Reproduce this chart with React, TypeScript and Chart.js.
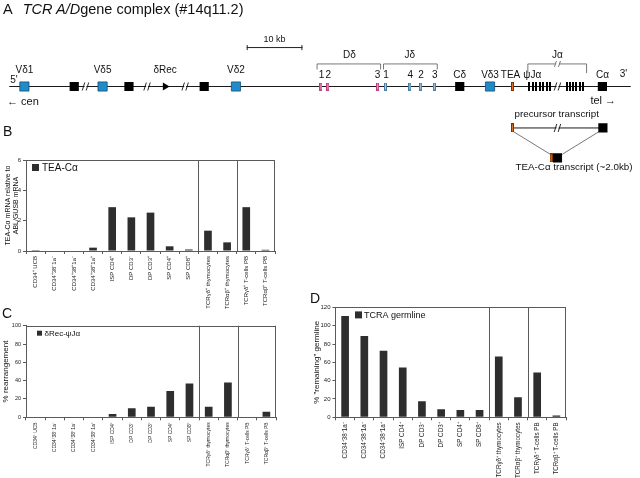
import React, { useEffect, useRef } from "react";
import { Chart, registerables } from "chart.js";
Chart.register(...registerables);

const FF = "'Liberation Sans', Arial, Helvetica, sans-serif";
const BAR_COLOR = "#2e2e2e";
const FRAME = "#5a5a5a";

// ---------- Panels B, C, D : data ----------
const cellsBC = [
  "CD34⁺ UCB", "CD34⁺38⁻1a⁻", "CD34⁺38⁺1a⁻", "CD34⁺38⁺1a⁺", "ISP CD4⁺", "DP CD3⁻", "DP CD3⁺",
  "SP CD4⁺", "SP CD8⁺", "TCRγδ⁺ thymocytes", "TCRαβ⁺ thymocytes", "TCRγδ⁺ T-cells PB", "TCRαβ⁺ T-cells PB",
];
const cellsD = [
  "CD34⁺38⁻1a⁻", "CD34⁺38⁺1a⁻", "CD34⁺38⁺1a⁺", "ISP CD4⁺", "DP CD3⁻", "DP CD3⁺",
  "SP CD4⁺", "SP CD8⁺", "TCRγδ⁺ thymocytes", "TCRαβ⁺ thymocytes", "TCRγδ⁺ T-cells PB", "TCRαβ⁺ T-cells PB",
];
const teaCalphaExpr = [0.06, 0, 0, 0.22, 2.89, 2.22, 2.53, 0.31, 0.1, 1.34, 0.57, 2.89, 0.08];
const dRecPsiJaRearr = [0, 0, 0, 0, 3.6, 9.8, 11.6, 28.7, 37, 11.5, 38, 0, 6];
const tcraGermline = [110.5, 88.7, 72.7, 54.5, 17.4, 8.7, 8, 8, 66.5, 21.8, 49, 2];
const groupStartsBC = [9, 11];
const groupStartsD = [8, 10];

// ---------- Panel A : schematic map (map units) ----------
const locusEnds = [2, 638];
const vSegPos = [17.5, 97.5, 234, 494];
const vSegNames = ["Vδ1", "Vδ5", "Vδ2", "Vδ3"];
const otherExonPos = [68.5, 124.5, 201.5];
const constPos = [463, 609];
const constNames = ["Cδ", "Cα"];
const dRecPos = [161.5];
const dDeltaPos = [321, 328, 379];
const dDeltaNames = ["1", "2", "3"];
const jDeltaPos = [387, 412, 423, 437];
const jDeltaNames = ["1", "4", "2", "3"];
const teaPos = [517];
const psiJaPos = [534.2, 537.8, 541.4, 545, 548.6, 552.2, 555.8, 572.8, 576, 579.2, 582.4, 585.6, 588.8];
const breakPos = [80, 143, 182, 563];
const precursorEnds = [517, 609.5];
const matureTea = [556.5];
const matureCa = [563];
const scaleBarKb = [245, 302];

function exonCanvas(w: number, h: number, fill: string, stroke: string) {
  const c = document.createElement("canvas");
  c.width = w;
  c.height = h;
  const x = c.getContext("2d")!;
  x.fillStyle = stroke;
  x.fillRect(0, 0, w, h);
  x.fillStyle = fill;
  x.fillRect(1, 1, Math.max(w - 2, 1), h - 2);
  return c;
}

function LocusMap() {
  const ref = useRef<HTMLCanvasElement>(null);
  useEffect(() => {
    const LOCUS_Y = 86;
    const PRE_Y = 131;
    const MAT_Y = 163.5;
    const pink = exonCanvas(3, 8, "#f4a3cc", "#b8407c");
    const ltblue = exonCanvas(3, 8, "#a9c9df", "#4a7ea0");
    const orange = exonCanvas(3, 9, "#e8721e", "#7a3300");
    const blackBar = exonCanvas(2, 9, "#000", "#000");
    const pts = (xs: number[], y: number) => xs.map((x) => ({ x, y }));

    const labelPlugin = {
      id: "labels",
      afterDatasetsDraw(chart: any) {
        const { ctx } = chart;
        const sx = chart.scales.x;
        const sy = chart.scales.y;
        const X = (v: number) => sx.getPixelForValue(v);
        const Y = (v: number) => sy.getPixelForValue(v);
        ctx.save();
        // breaks
        ctx.lineWidth = 0.9;
        const brk = (x: number, y: number) => {
          ctx.fillStyle = "#fff";
          ctx.beginPath();
          ctx.moveTo(x - 2.2, y + 4);
          ctx.lineTo(x + 0.3, y - 4);
          ctx.lineTo(x + 2.2, y - 4);
          ctx.lineTo(x - 0.3, y + 4);
          ctx.closePath();
          ctx.fill();
          ctx.strokeStyle = "#111";
          ctx.beginPath();
          ctx.moveTo(x - 3.2, y + 4);
          ctx.lineTo(x - 0.7, y - 4);
          ctx.moveTo(x + 0.7, y + 4);
          ctx.lineTo(x + 3.2, y - 4);
          ctx.stroke();
        };
        breakPos.forEach((b) => brk(X(b), Y(LOCUS_Y)));
        brk(X(563), Y(PRE_Y));

        ctx.fillStyle = "#111";
        ctx.textBaseline = "middle";
        ctx.textAlign = "center";
        ctx.font = `10px ${FF}`;
        const up = Y(68);
        const mid = Y(74);
        [0, 1, 2].forEach((i) => ctx.fillText(vSegNames[i], X(vSegPos[i]), up));
        ctx.fillText("δRec", X(dRecPos[0]), up);
        ctx.fillText(vSegNames[3], X(vSegPos[3]), mid);
        dDeltaNames.forEach((n, i) => ctx.fillText(n, X(dDeltaPos[i]) + (i < 2 ? 0.5 : 0), mid));
        jDeltaNames.forEach((n, i) => ctx.fillText(n, X(jDeltaPos[i]) + 0.5, mid));
        constNames.forEach((n, i) => ctx.fillText(n, X(constPos[i]), mid));
        ctx.fillText("TEA", X(teaPos[0]) - 2, mid);
        ctx.textAlign = "left";
        ctx.fillText("ψJα", X(psiJaPos[0]) - 6, mid);
        ctx.fillText("5'", X(locusEnds[0]) + 1, Y(79));
        ctx.fillText("3'", X(locusEnds[1]) - 11, Y(73));
        ctx.font = `11px ${FF}`;
        ctx.fillText("← cen", 7, Y(103));
        ctx.fillText("tel →", X(constPos[1]) - 12, Y(102));

        // brackets
        ctx.strokeStyle = "#555";
        ctx.lineWidth = 0.8;
        const bracket = (x1: number, x2: number, y: number, leg: number) => {
          ctx.beginPath();
          ctx.moveTo(X(x1), Y(y + leg));
          ctx.lineTo(X(x1), Y(y));
          ctx.lineTo(X(x2), Y(y));
          ctx.lineTo(X(x2), Y(y + leg));
          ctx.stroke();
        };
        bracket(dDeltaPos[0] - 4, dDeltaPos[2] + 3, 61.5, 6);
        bracket(jDeltaPos[0] - 2, jDeltaPos[3] + 3, 61.5, 6);
        bracket(psiJaPos[0] - 1.5, psiJaPos[12] + 4, 61.5, 10);
        // break marks on Ja bracket
        ctx.fillStyle = "#fff";
        ctx.fillRect(X(563) - 2, Y(61.5) - 2, 4, 4);
        ctx.beginPath();
        ctx.moveTo(X(563) - 3, Y(61.5) + 3);
        ctx.lineTo(X(563) - 1, Y(61.5) - 3);
        ctx.moveTo(X(563) + 1, Y(61.5) + 3);
        ctx.lineTo(X(563) + 3, Y(61.5) - 3);
        ctx.stroke();
        ctx.fillStyle = "#111";
        ctx.textAlign = "center";
        ctx.font = `10px ${FF}`;
        ctx.fillText("Dδ", X((dDeltaPos[0] + dDeltaPos[2]) / 2), Y(52));
        ctx.fillText("Jδ", X((jDeltaPos[0] + jDeltaPos[3]) / 2), Y(52));
        ctx.fillText("Jα", X(563), Y(52));

        // scale bar
        ctx.strokeStyle = "#222";
        ctx.lineWidth = 1;
        ctx.beginPath();
        ctx.moveTo(X(scaleBarKb[0]), Y(43.7));
        ctx.lineTo(X(scaleBarKb[1]), Y(43.7));
        ctx.moveTo(X(scaleBarKb[0]) + 0.5, Y(41));
        ctx.lineTo(X(scaleBarKb[0]) + 0.5, Y(46.5));
        ctx.moveTo(X(scaleBarKb[1]) - 0.5, Y(41));
        ctx.lineTo(X(scaleBarKb[1]) - 0.5, Y(46.5));
        ctx.stroke();
        ctx.font = `9px ${FF}`;
        ctx.fillText("10 kb", X((scaleBarKb[0] + scaleBarKb[1]) / 2), Y(35));

        // transcripts text
        ctx.textAlign = "left";
        ctx.font = `9.8px ${FF}`;
        ctx.fillText("precursor transcript", X(precursorEnds[0]) + 2, Y(116));
        ctx.fillText("TEA-Cα transcript (~2.0kb)", X(precursorEnds[0]) + 3, Y(174));
        ctx.restore();
      },
    };

    const chart = new Chart(ref.current!, {
      type: "scatter",
      data: {
        datasets: [
          { data: pts(vSegPos, LOCUS_Y), pointStyle: "rect", pointRadius: 6.5, backgroundColor: "#1f8bc9", borderColor: "#1b4c70", borderWidth: 0.8, order: 0 },
          { data: pts([...otherExonPos, ...constPos], LOCUS_Y), pointStyle: "rect", pointRadius: 6.5, backgroundColor: "#000", borderColor: "#000", borderWidth: 0, order: 0 },
          { data: pts(dRecPos, LOCUS_Y), pointStyle: "triangle", rotation: 90, pointRadius: 4.5, backgroundColor: "#000", borderColor: "#000", borderWidth: 0, order: 0 },
          { data: pts(dDeltaPos, LOCUS_Y), pointStyle: pink, order: 0 },
          { data: pts(jDeltaPos, LOCUS_Y), pointStyle: ltblue, order: 0 },
          { data: pts(teaPos, LOCUS_Y), pointStyle: orange, order: 0 },
          { data: pts(psiJaPos, LOCUS_Y), pointStyle: blackBar, order: 0 },
          { data: pts([precursorEnds[0]], PRE_Y), pointStyle: orange, order: 0 },
          { data: pts([precursorEnds[1]], PRE_Y), pointStyle: "rect", pointRadius: 6.5, backgroundColor: "#000", borderWidth: 0, order: 0 },
          { data: pts(matureTea, MAT_Y), pointStyle: orange, order: 0 },
          { data: pts(matureCa, MAT_Y), pointStyle: "rect", pointRadius: 6.5, backgroundColor: "#000", borderWidth: 0, order: 0 },
          { data: pts(locusEnds, LOCUS_Y), showLine: true, borderColor: "#1a1a1a", borderWidth: 1.2, pointRadius: 0, order: 5 },
          { data: [{ x: precursorEnds[0] + 1, y: PRE_Y }, { x: precursorEnds[1] - 4, y: PRE_Y }], showLine: true, borderColor: "#1a1a1a", borderWidth: 1, pointRadius: 0, order: 5 },
          { data: [{ x: precursorEnds[0] + 1, y: PRE_Y + 4 }, { x: matureTea[0] - 1, y: MAT_Y - 4 }], showLine: true, borderColor: "#555", borderWidth: 0.8, pointRadius: 0, order: 5 },
          { data: [{ x: precursorEnds[1] - 4, y: PRE_Y + 4 }, { x: matureCa[0] + 5, y: MAT_Y - 4 }], showLine: true, borderColor: "#555", borderWidth: 0.8, pointRadius: 0, order: 5 },
        ],
      },
      options: {
        animation: false,
        responsive: false,
        layout: { padding: 0 },
        plugins: { legend: { display: false }, tooltip: { enabled: false } },
        scales: {
          x: { type: "linear", min: 0, max: 640, display: false },
          y: { type: "linear", min: 0, max: 185, reverse: true, display: false },
        },
      },
      plugins: [labelPlugin],
    } as any);
    return () => chart.destroy();
  }, []);
  return (
    <canvas ref={ref} width={640} height={185} style={{ position: "absolute", left: 0, top: 0, width: 640, height: 185 }} />
  );
}

type Box = { left: number; top: number; width: number; height: number };
type Area = { left: number; top: number; right: number; bottom: number };
type PanelProps = {
  box: Box;
  area: Area;
  labels: string[];
  values: number[];
  series: string;
  yMax: number;
  yStep: number;
  yTitle: string | string[];
  titleSize: number;
  titlePad: number;
  tickSize: number;
  xSize: number;
  groupStarts: number[];
  legend: { dx: number; dy: number; size: number; gap: number; font: number };
};

function BarPanel(p: PanelProps) {
  const ref = useRef<HTMLCanvasElement>(null);
  useEffect(() => {
    const { box, area } = p;
    const yW = area.left - box.left;
    const padTop = area.top - box.top;
    const padRight = box.left + box.width - area.right;
    const xH = box.top + box.height - area.bottom;
    const framePlugin = {
      id: "frame",
      afterDatasetsDraw(chart: any) {
        const { ctx, chartArea: a, scales } = chart;
        ctx.save();
        ctx.strokeStyle = FRAME;
        ctx.lineWidth = 1;
        ctx.beginPath();
        ctx.moveTo(a.left, Math.round(a.top) + 0.5);
        ctx.lineTo(a.right, Math.round(a.top) + 0.5);
        ctx.moveTo(Math.round(a.right) - 0.5, a.top);
        ctx.lineTo(Math.round(a.right) - 0.5, a.bottom);
        for (const g of p.groupStarts) {
          const x = (scales.x.getPixelForValue(g - 1) + scales.x.getPixelForValue(g)) / 2;
          ctx.moveTo(Math.round(x) + 0.5, a.top);
          ctx.lineTo(Math.round(x) + 0.5, a.bottom);
        }
        ctx.stroke();
        const ds = chart.data.datasets[0];
        const lg = p.legend;
        ctx.fillStyle = ds.backgroundColor;
        ctx.fillRect(a.left + lg.dx, a.top + lg.dy - lg.size / 2, lg.size, lg.size);
        ctx.fillStyle = "#111";
        ctx.font = `${lg.font}px ${FF}`;
        ctx.textBaseline = "middle";
        ctx.textAlign = "left";
        ctx.fillText(ds.label, a.left + lg.dx + lg.size + lg.gap, a.top + lg.dy + 0.5);
        ctx.restore();
      },
    };
    const chart = new Chart(ref.current!, {
      type: "bar",
      data: {
        labels: p.labels,
        datasets: [
          { label: p.series, data: p.values, backgroundColor: BAR_COLOR, barPercentage: 0.4, categoryPercentage: 1 },
        ],
      },
      options: {
        animation: false,
        responsive: false,
        layout: { padding: { left: 0, top: padTop, right: padRight, bottom: 0 } },
        plugins: { legend: { display: false }, tooltip: { enabled: false } },
        scales: {
          x: {
            offset: true,
            grid: { offset: true, drawOnChartArea: false, tickLength: 3, color: FRAME },
            border: { color: FRAME },
            ticks: { autoSkip: false, maxRotation: 90, minRotation: 90, font: { family: FF, size: p.xSize }, color: "#222", padding: 2 },
            afterFit: (s: any) => { s.height = xH; },
          },
          y: {
            min: 0,
            max: p.yMax,
            ticks: { stepSize: p.yStep, font: { family: FF, size: p.tickSize }, color: "#222", padding: 2 },
            grid: { drawOnChartArea: false, tickLength: 3, color: FRAME },
            border: { color: FRAME },
            title: { display: true, text: p.yTitle, font: { family: FF, size: p.titleSize, lineHeight: 1.15 }, padding: { top: p.titlePad, bottom: 0 }, color: "#111" },
            afterFit: (s: any) => { s.width = yW; },
          },
        },
      },
      plugins: [framePlugin],
    } as any);
    return () => chart.destroy();
  }, []);
  const { box } = p;
  return (
    <canvas ref={ref} width={box.width} height={box.height} style={{ position: "absolute", left: box.left, top: box.top, width: box.width, height: box.height }} />
  );
}

const letter: React.CSSProperties = { position: "absolute", fontFamily: FF, fontSize: 14, lineHeight: "14px", color: "#111" };

export default function App() {
  return (
    <div style={{ position: "absolute", left: 0, top: 0, width: 640, height: 478, background: "#fff", overflow: "hidden" }}>
      <LocusMap />
      <div style={{ ...letter, left: 3, top: 2, fontSize: 14.5, whiteSpace: "nowrap" }}>
        A<span style={{ marginLeft: 10, fontStyle: "italic" }}>TCR A/D</span>gene complex (#14q11.2)
      </div>
      <div style={{ ...letter, left: 3, top: 124 }}>B</div>
      <div style={{ ...letter, left: 2, top: 306 }}>C</div>
      <div style={{ ...letter, left: 310, top: 291 }}>D</div>
      <BarPanel
        box={{ left: 0, top: 145, width: 300, height: 170 }}
        area={{ left: 26, top: 160, right: 275, bottom: 251 }}
        labels={cellsBC}
        values={teaCalphaExpr}
        series="TEA-Cα"
        yMax={6}
        yStep={2}
        yTitle={["TEA-Cα mRNA relative to", "ABL/GUSB mRNA"]}
        titleSize={7}
        titlePad={4}
        tickSize={6}
        xSize={6}
        groupStarts={groupStartsBC}
        legend={{ dx: 6, dy: 7.5, size: 7, gap: 3, font: 10 }}
      />
      <BarPanel
        box={{ left: 0, top: 315, width: 300, height: 163 }}
        area={{ left: 26, top: 325.7, right: 276, bottom: 417.3 }}
        labels={cellsBC}
        values={dRecPsiJaRearr}
        series="δRec-ψJα"
        yMax={100}
        yStep={20}
        yTitle="% rearrangement"
        titleSize={8}
        titlePad={1.5}
        tickSize={5.5}
        xSize={5}
        groupStarts={groupStartsBC}
        legend={{ dx: 11, dy: 7.5, size: 5, gap: 2.5, font: 8 }}
      />
      <BarPanel
        box={{ left: 308, top: 300, width: 290, height: 178 }}
        area={{ left: 335.5, top: 307.4, right: 566, bottom: 417.3 }}
        labels={cellsD}
        values={tcraGermline}
        series="TCRA germline"
        yMax={120}
        yStep={20}
        yTitle={'% "remaining" germline'}
        titleSize={8}
        titlePad={4}
        tickSize={6}
        xSize={6.3}
        groupStarts={groupStartsD}
        legend={{ dx: 19.5, dy: 7.5, size: 7, gap: 2, font: 9 }}
      />
    </div>
  );
}
